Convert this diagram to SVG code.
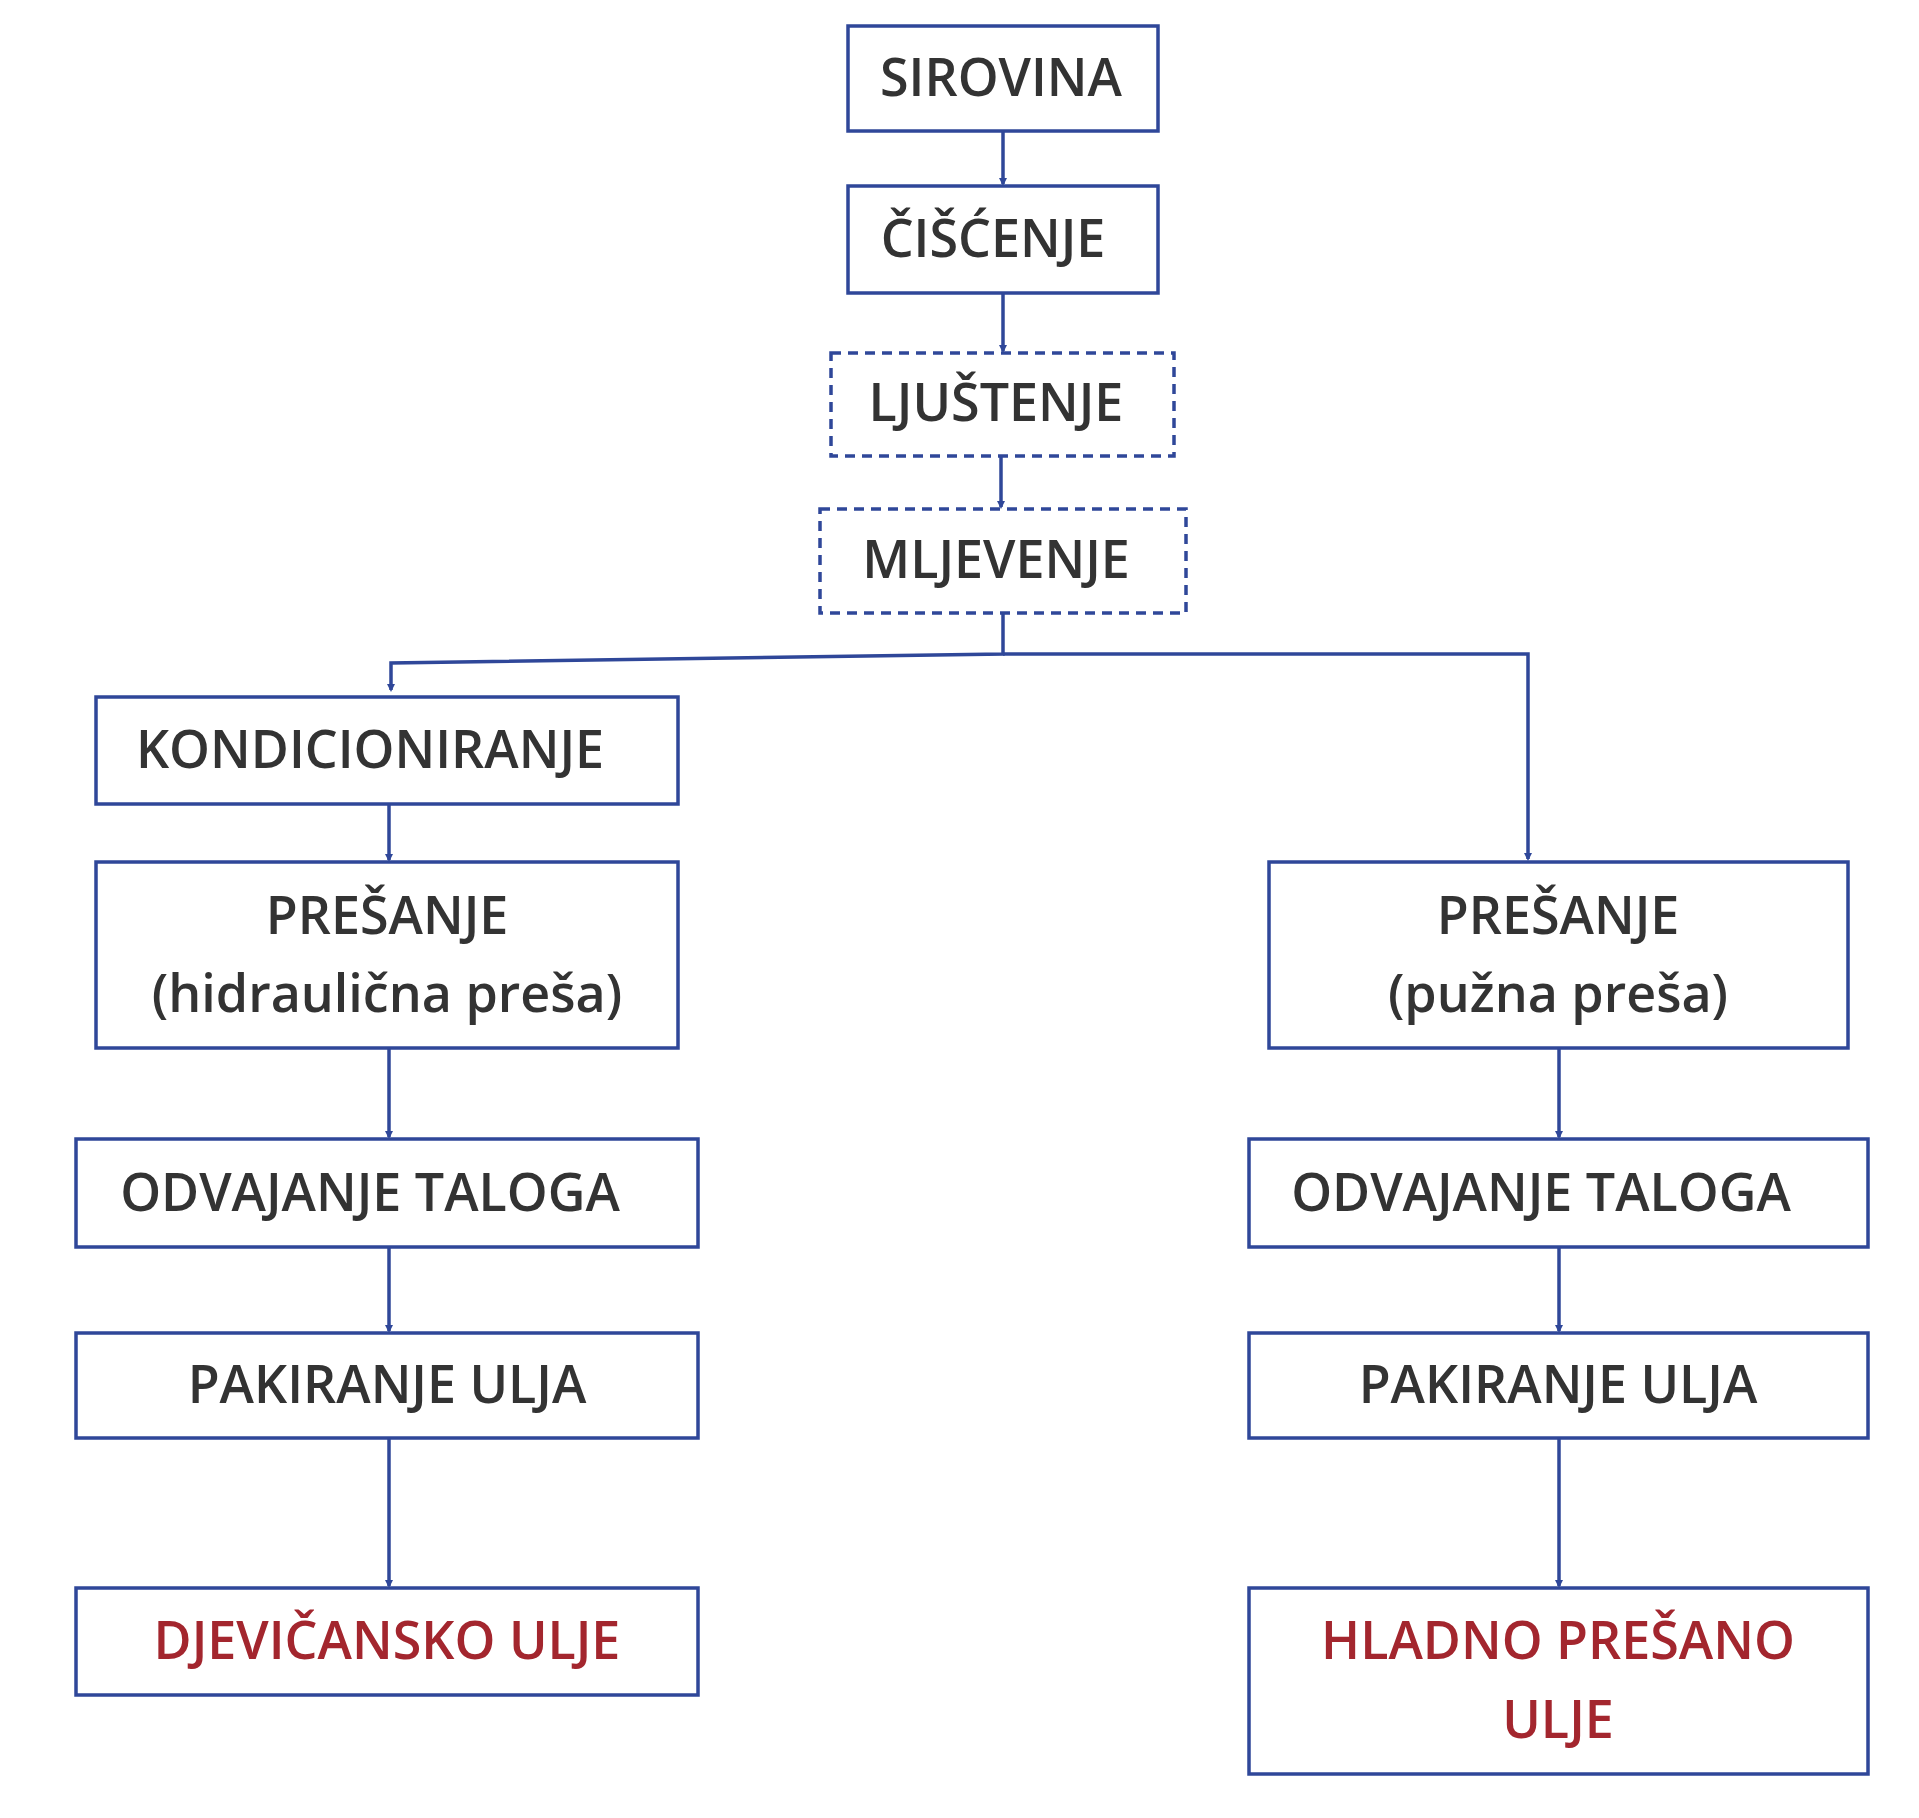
<svg xmlns="http://www.w3.org/2000/svg" width="1919" height="1818" viewBox="0 0 1919 1818">
<style>
.b{fill:#fff;stroke:#2f4799;stroke-width:3.5}
.d{stroke-dasharray:10 7}
.t{font-family:"Open Sans","Liberation Sans",sans-serif;font-size:52px;fill:#333;text-anchor:middle;font-weight:600}
.r{fill:#a3262e}
.c{fill:none;stroke:#2f4799;stroke-width:3.5}
</style>
<defs><marker id="a" markerWidth="8" markerHeight="8" refX="6" refY="4" orient="auto" markerUnits="userSpaceOnUse" viewBox="0 0 8 8"><path d="M0,0L8,4L0,8z" fill="#2f4799"/></marker></defs>
<rect width="1919" height="1818" fill="#fff"/>
<g id="connectors">
<path class="c" d="M1003,131V184" marker-end="url(#a)" style="marker-end:url(#a)"/>
<path class="c" d="M1003,293V351" marker-end="url(#a)"/>
<path class="c" d="M1001,456V507" marker-end="url(#a)"/>
<path class="c" d="M1003,613V654L391,663V690" marker-end="url(#a)"/>
<path class="c" d="M1003,654H1528V859" marker-end="url(#a)"/>
<path class="c" d="M389,804V860" marker-end="url(#a)"/>
<path class="c" d="M389,1048V1137" marker-end="url(#a)"/>
<path class="c" d="M389,1247V1331" marker-end="url(#a)"/>
<path class="c" d="M389,1438V1586" marker-end="url(#a)"/>
<path class="c" d="M1559,1048V1137" marker-end="url(#a)"/>
<path class="c" d="M1559,1247V1331" marker-end="url(#a)"/>
<path class="c" d="M1559,1438V1586" marker-end="url(#a)"/>
</g>
<g id="n1"><rect class="b" x="848" y="26" width="310" height="105"/><text class="t" x="1001" y="96">SIROVINA</text></g>
<g id="n2"><rect class="b" x="848" y="186" width="310" height="107"/><text class="t" x="993" y="257">ČIŠĆENJE</text></g>
<g id="n3"><rect class="b d" x="831" y="353" width="343" height="103"/><text class="t" x="996" y="421">LJUŠTENJE</text></g>
<g id="n4"><rect class="b d" x="820" y="509" width="366" height="104"/><text class="t" x="996" y="578">MLJEVENJE</text></g>
<g id="n5"><rect class="b" x="96" y="697" width="582" height="107"/><text class="t" x="370" y="768">KONDICIONIRANJE</text></g>
<g id="n6"><rect class="b" x="96" y="862" width="582" height="186"/><text class="t" x="387" y="934">PREŠANJE</text><text class="t" x="387" y="1012">(hidraulična preša)</text></g>
<g id="n7"><rect class="b" x="76" y="1139" width="622" height="108"/><text class="t" x="370" y="1211">ODVAJANJE TALOGA</text></g>
<g id="n8"><rect class="b" x="76" y="1333" width="622" height="105"/><text class="t" x="387" y="1403">PAKIRANJE ULJA</text></g>
<g id="n9"><rect class="b" x="76" y="1588" width="622" height="107"/><text class="t r" x="387" y="1659">DJEVIČANSKO ULJE</text></g>
<g id="n10"><rect class="b" x="1269" y="862" width="579" height="186"/><text class="t" x="1558" y="934">PREŠANJE</text><text class="t" x="1558" y="1012">(pužna preša)</text></g>
<g id="n11"><rect class="b" x="1249" y="1139" width="619" height="108"/><text class="t" x="1541" y="1211">ODVAJANJE TALOGA</text></g>
<g id="n12"><rect class="b" x="1249" y="1333" width="619" height="105"/><text class="t" x="1558" y="1403">PAKIRANJE ULJA</text></g>
<g id="n13"><rect class="b" x="1249" y="1588" width="619" height="186"/><text class="t r" x="1558" y="1659">HLADNO PREŠANO</text><text class="t r" x="1558" y="1738">ULJE</text></g>
</svg>
